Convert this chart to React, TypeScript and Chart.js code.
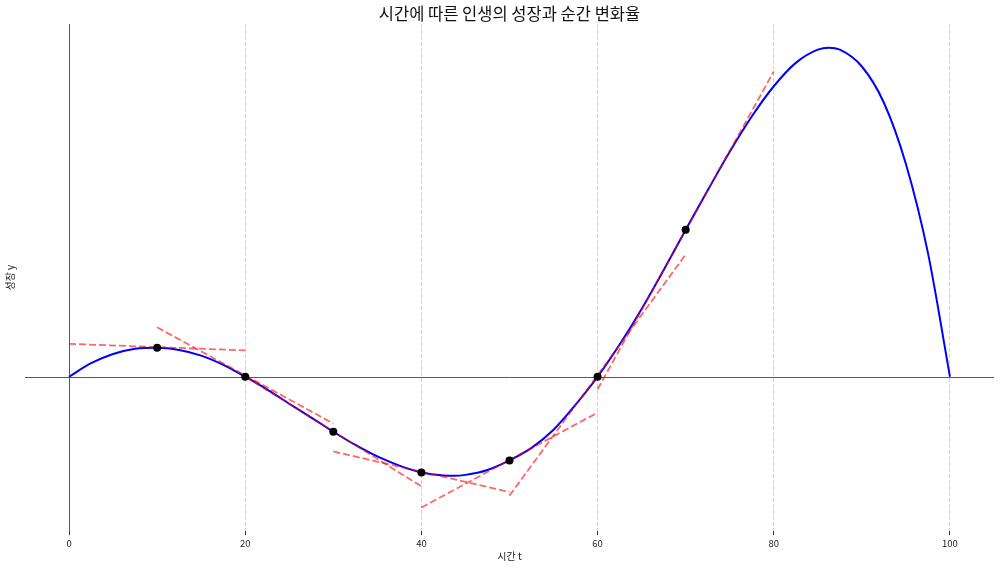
import React, { useEffect, useRef } from "react";
import { Chart, registerables } from "chart.js";

Chart.register(...registerables);

const TITLE = "시간에 따른 인생의 성장과 순간 변화율";
const X_LABEL = "시간 t";
const Y_LABEL = "성장 y";

const xTicks = [0, 20, 40, 60, 80, 100];

// growth curve y(t)
const curveT = [0, 2.5, 5, 7.5, 10, 12.5, 15, 17.5, 20, 22.5, 25, 27.5, 30, 32.5, 35, 37.5, 40, 42.5, 43.75, 45, 47.5, 50, 52.5, 55, 57.5, 60, 62.5, 65, 67.5, 70, 72.5, 75, 77.5, 80, 82.5, 85, 86.25, 87.5, 90, 92.5, 95, 97.5, 100];
const curveY = [0, 4.1, 6.9, 8.5, 8.8, 8.1, 6.4, 3.6, 0, -3.9, -8.2, -12.4, -16.7, -20.7, -24.2, -27.0, -29.1, -30.0, -30.1, -29.8, -28.3, -25.4, -21.6, -16.1, -8.5, 0, 9.8, 20.6, 32.4, 44.6, 56.6, 68.3, 79.0, 88.2, 95.3, 99.3, 99.9, 99.3, 94.2, 83.2, 64.6, 37.6, 0];

// sample points
const pointT = [10, 20, 30, 40, 50, 60, 70];
const pointY = [8.8, 0, -16.7, -29.1, -25.4, 0, 44.6];

// tangent segments (instantaneous rate of change)
const tangentStartT = [0, 10, 20, 30, 40, 50, 60];
const tangentStartY = [10.0, 15.0, 0.1, -22.7, -39.7, -36.1, -3.8];
const tangentEndT = [20, 30, 40, 50, 60, 70, 80];
const tangentEndY = [8.0, -14.2, -33.3, -35.0, -10.9, 37.1, 92.7];

const FONT = "'Noto Sans CJK KR', 'Noto Sans', sans-serif";

export default function App() {
  const canvasRef = useRef<HTMLCanvasElement | null>(null);

  useEffect(() => {
    const canvas = canvasRef.current;
    if (!canvas) return;
    Chart.defaults.font.family = FONT;

    const curveData = curveT.map((t, i) => ({ x: t, y: curveY[i] }));
    const pointData = pointT.map((t, i) => ({ x: t, y: pointY[i] }));
    const tangentSets = tangentStartT.map((t, i) => ({
      type: "scatter" as const,
      data: [
        { x: t, y: tangentStartY[i] },
        { x: tangentEndT[i], y: tangentEndY[i] },
      ],
      showLine: true,
      borderColor: "rgba(255,0,0,0.6)",
      borderWidth: 1.8,
      borderDash: [7, 3],
      pointRadius: 0,
      order: 2,
    }));

    const axesPlugin = {
      id: "zeroAxes",
      beforeDatasetsDraw(chart: any) {
        const { ctx, chartArea, scales } = chart;
        const y0 = Math.round(scales.y.getPixelForValue(0)) + 0.5;
        const x0 = Math.round(scales.x.getPixelForValue(0)) + 0.5;
        ctx.save();
        ctx.strokeStyle = "#5a5a5a";
        ctx.lineWidth = 1;
        ctx.beginPath();
        ctx.moveTo(chartArea.left, y0);
        ctx.lineTo(chartArea.right, y0);
        ctx.moveTo(x0, chartArea.top);
        ctx.lineTo(x0, chartArea.bottom);
        ctx.stroke();
        ctx.restore();
      },
    };

    const titlePlugin = {
      id: "centeredTitle",
      afterDraw(chart: any) {
        const { ctx, chartArea } = chart;
        ctx.save();
        ctx.fillStyle = "#111";
        ctx.font = `16.5px ${FONT}`;
        ctx.textAlign = "center";
        ctx.textBaseline = "middle";
        ctx.fillText(TITLE, (chartArea.left + chartArea.right) / 2, 14);
        ctx.restore();
      },
    };

    const chart = new Chart(canvas, {
      type: "scatter",
      data: {
        datasets: [
          {
            type: "scatter",
            data: curveData,
            showLine: true,
            borderColor: "#0000ff",
            borderWidth: 2,
            pointRadius: 0,
            cubicInterpolationMode: "monotone",
            order: 3,
          },
          ...tangentSets,
          {
            type: "scatter",
            data: pointData,
            showLine: false,
            backgroundColor: "#000",
            borderColor: "#000",
            pointRadius: 4,
            borderWidth: 0,
            order: 1,
          },
        ] as any,
      },
      plugins: [axesPlugin, titlePlugin],
      options: {
        responsive: false,
        animation: false,
        layout: { padding: { top: 24, right: 6, bottom: 0, left: 0 } },
        plugins: {
          legend: { display: false },
          tooltip: { enabled: false },
          title: { display: false },
        },
        scales: {
          x: {
            type: "linear",
            min: -5,
            max: 105,
            afterBuildTicks: (scale: any) => {
              scale.ticks = xTicks.map((v) => ({ value: v }));
            },
            ticks: {
              color: "#222",
              font: { size: 9.5, family: FONT },
              padding: 2,
              maxRotation: 0,
            },
            grid: {
              color: "#d2d2d2",
              lineWidth: 1,
              drawTicks: true,
              tickLength: 4,
              tickColor: "#333",
              tickWidth: 1,
            },
            border: { display: false, dash: [4, 2] },
            title: {
              display: true,
              text: X_LABEL,
              color: "#222",
              font: { size: 10, family: FONT },
              padding: { top: 0, bottom: 5.4 },
            },
          },
          y: {
            type: "linear",
            min: -46.9,
            max: 107.1,
            ticks: { display: false },
            grid: { display: false },
            border: { display: false },
            title: {
              display: true,
              text: Y_LABEL,
              color: "#222",
              font: { size: 10, family: FONT },
              padding: { top: 4, bottom: 1 },
            },
          },
        },
      } as any,
    });

    return () => chart.destroy();
  }, []);

  return (
    <div style={{ position: "fixed", left: 0, top: 0, width: 1000, height: 568, background: "#fff" }}>
      <canvas ref={canvasRef} width={1000} height={568} style={{ display: "block", width: 1000, height: 568 }} />
    </div>
  );
}
